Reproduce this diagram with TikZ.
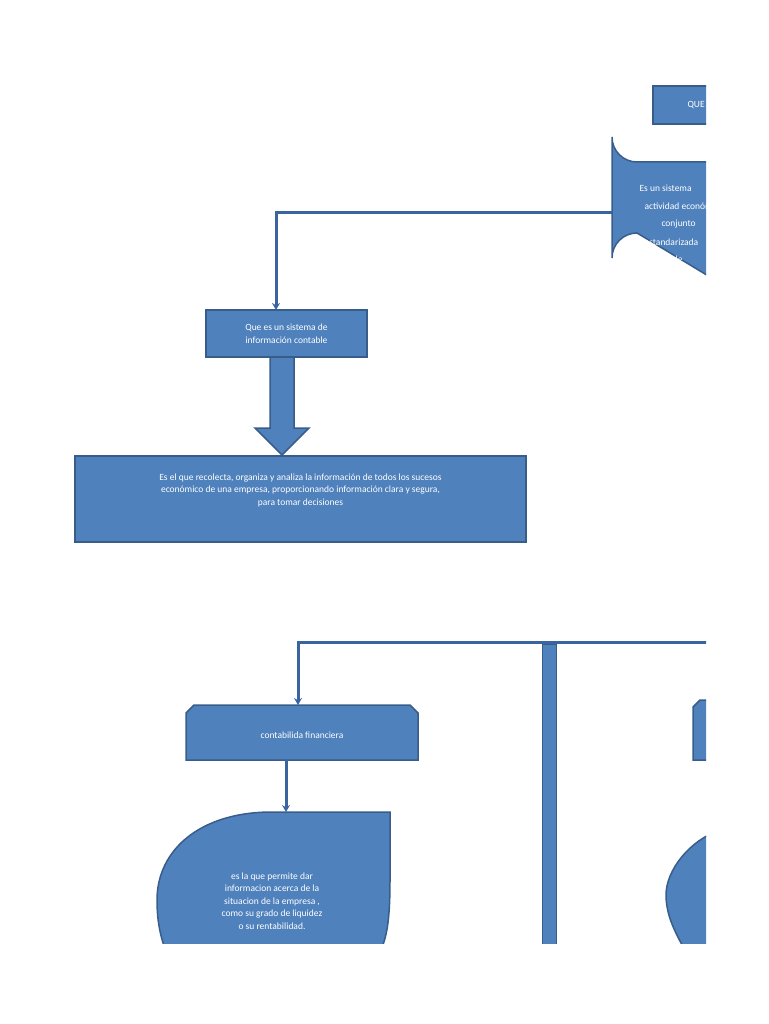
\documentclass[tikz,border=0pt]{standalone}
\usepackage{fontspec}
\setmainfont{Carlito}
\usetikzlibrary{arrows.meta}
\definecolor{fillb}{HTML}{4F81BD}
\definecolor{edgeb}{HTML}{385D8A}
\definecolor{lineb}{HTML}{3A64A0}
\tikzset{
  shp/.style={fill=fillb,draw=edgeb,line width=1.5pt},
  conn/.style={draw=lineb,line width=3pt,-{Stealth[length=7pt,width=8pt]}},
  txt/.style={text=white,font=\fontsize{9.5pt}{12.5pt}\selectfont,align=center},
}
\begin{document}
\begin{tikzpicture}[x=1pt,y=-1pt]
\useasboundingbox (0,0) rectangle (768,1024);
\begin{scope}
\clip (0,0) rectangle (706,943);
% top right box
\draw[shp] (653,86) rectangle (720,124);
\node[txt,anchor=west] (qu) at (684,105) {QUE ES};
% rounded box
\draw[shp] (720,162) -- (637,162) arc[start angle=90,end angle=180,radius=25] -- (612,258) arc[start angle=180,end angle=270,radius=25] -- (720,283) -- cycle;
\coordinate (rb) at (612,213);
\node[txt,anchor=west] (r1) at (636,188) {Es un sistema};
\node[txt,anchor=west] (r2) at (641,206) {actividad económica};
\node[txt,anchor=west] (r3) at (658,224) {conjunto};
\node[txt,anchor=west] (r4) at (641,242) {estandarizada};
\node[txt,anchor=west] (r5) at (627,259) {decisiones de};
% second box
\node[shp,txt,minimum width=161pt,minimum height=47pt,inner sep=0pt] (q) at (286.5,333.5) {Que es un sistema de\\información contable};
\draw[conn] (rb) -- (276,213) -- (276,310);
% block arrow
\draw[shp] (270,357) -- (294,357) -- (294,428) -- (309,428) -- (282,455) -- (255,428) -- (270,428) -- cycle;
% big box
\draw[shp] (75,456) rectangle (526,542);
\node[txt] (d) at (300.5,490) {Es el que recolecta, organiza y analiza la información de todos los sucesos\\económico de una empresa, proporcionando información clara y segura,\\para tomar decisiones};
% lower connectors
\coordinate (hr) at (720,642);
\draw[conn] (hr) -- (298,642) -- (298,705);
\draw[fill=fillb,draw=edgeb,line width=1pt] (542,644) rectangle (556,960);
% contabilidad financiera
\draw[shp] (194,705) -- (410,705) -- (418,713) -- (418,760) -- (186,760) -- (186,713) -- cycle;
\node[txt] (cf) at (302,735) {contabilida financiera};
\draw[conn] (286,760) -- (286,812);
% rounded shape
\draw[shp] (390,812) -- (390,880) .. controls (390,930) and (385,945) .. (375,960) -- (170,960) .. controls (160,940) and (157,920) .. (157,900) .. controls (157,850) and (200,812) .. (272,812) -- cycle;
\node[txt] (s) at (272,901) {es la que permite dar\\informacion acerca de la\\situacion de la empresa ,\\como su grado de liquidez\\o su rentabilidad.};
% right partial shapes
\draw[shp] (700,700) -- (720,700) -- (720,760) -- (693,760) -- (693,707) -- cycle;
\draw[shp] (720,830) .. controls (690,840) and (666,870) .. (666,895) .. controls (666,920) and (680,940) .. (690,960) -- (720,960) -- cycle;
\end{scope}
\end{tikzpicture}
\end{document}
